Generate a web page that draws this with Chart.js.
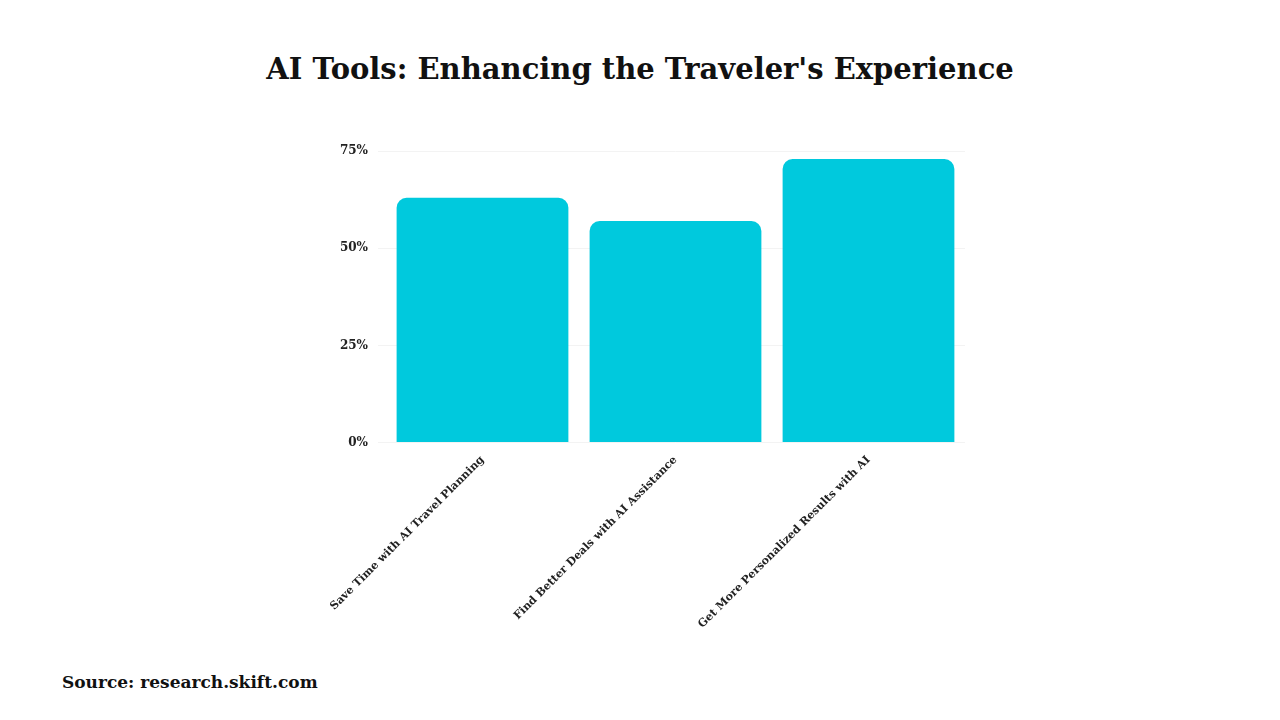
<!DOCTYPE html>
<html>
<head>
<meta charset="utf-8">
<script src="https://cdn.jsdelivr.net/npm/chart.js@4"></script>
<style>
  body { margin: 0; width: 1280px; height: 720px; background: #fff; position: relative; font-family: "DejaVu Serif", serif; }
  h1 { position: absolute; top: 52px; left: 0; width: 1280px; text-align: center; margin: 0; font-size: 29px; font-weight: bold; color: #111; }
  #src { position: absolute; left: 62px; top: 672px; font-size: 17px; font-weight: bold; color: #111; }
  #wrap { position: absolute; left: 320px; top: 134px; width: 645px; height: 500px; }
</style>
</head>
<body>
<h1>AI Tools: Enhancing the Traveler's Experience</h1>
<div id="wrap"><canvas id="chart"></canvas></div>
<div id="src">Source: research.skift.com</div>
<script>
const categories = ['Save Time with AI Travel Planning', 'Find Better Deals with AI Assistance', 'Get More Personalized Results with AI'];
const shares = [63, 57, 73];
const yTicks = [0, 25, 50, 75];

const ctx = document.getElementById('chart').getContext('2d');
new Chart(ctx, {
  type: 'bar',
  data: {
    labels: categories,
    datasets: [{
      data: shares,
      backgroundColor: '#00C9DD',
      borderRadius: { topLeft: 10, topRight: 10 },
      borderSkipped: 'bottom',
      categoryPercentage: 1,
      barPercentage: 0.89
    }]
  },
  options: {
    responsive: true,
    maintainAspectRatio: false,
    animation: false,
    plugins: { legend: { display: false }, tooltip: { enabled: false } },
    scales: {
      x: {
        grid: { display: false },
        border: { display: false },
        ticks: {
          maxRotation: 45, minRotation: 45,
          color: '#222',
          font: { family: 'DejaVu Serif', size: 11, weight: 'bold' }
        }
      },
      y: {
        min: 0, max: 75,
        afterBuildTicks: axis => { axis.ticks = yTicks.map(v => ({ value: v })); },
        grid: { color: '#f3f3f3' },
        border: { display: false },
        ticks: {
          color: '#222',
          padding: 10,
          font: { family: 'DejaVu Serif', size: 12, weight: 'bold' },
          callback: v => v + '%'
        }
      }
    }
  }
});
</script>
</body>
</html>
